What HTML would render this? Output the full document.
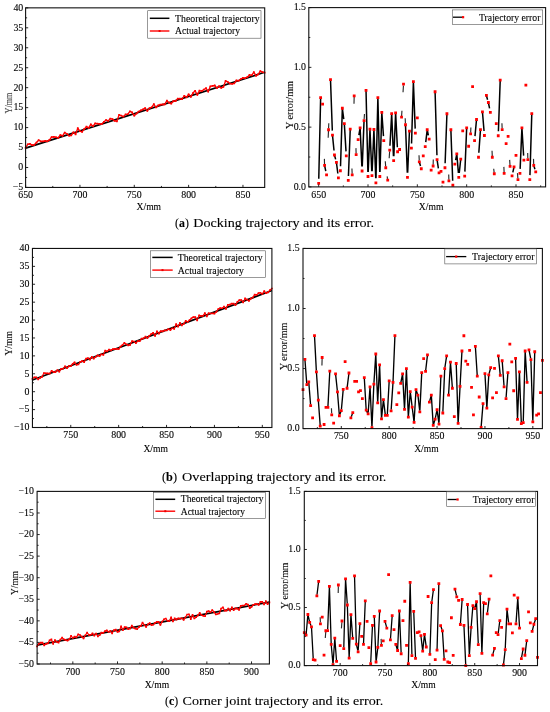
<!DOCTYPE html>
<html lang="en"><head><meta charset="utf-8"><title>Trajectory and error</title>
<style>html,body{margin:0;padding:0;background:#fff}svg{display:block}text{font-family:'Liberation Serif', 'Times New Roman', serif;font-size:9.9px;fill:#000;stroke:#000;stroke-width:.1px}</style></head><body>
<svg width="550" height="712" viewBox="0 0 550 712">
<rect width="550" height="712" fill="#fff"/>
<path d="M25.6 148.14L264.7 72.31" stroke="#000" stroke-width="1.7" fill="none"/>
<polyline points="25.6,147.82 27.77,144.27 29.95,143.79 32.12,145.15 34.29,144.78 36.47,142.58 38.64,140.22 40.82,141.38 42.99,141.36 45.16,140.92 47.34,141.34 49.51,139.82 51.68,137.04 53.86,136.86 56.03,137.25 58.2,137.81 60.38,134.98 62.55,135.82 64.73,132.49 66.9,133.76 69.07,135.73 71.25,135.43 73.42,132.24 75.59,134.3 77.77,128.17 79.94,131.05 82.11,131.94 84.29,128.95 86.46,126.72 88.64,127.81 90.81,124.28 92.98,126.22 95.16,123.39 97.33,123.64 99.5,123.86 101.68,124.04 103.85,121.9 106.02,119.98 108.2,120.86 110.37,118.58 112.55,119.19 114.72,120.92 116.89,121.31 119.07,114.87 121.24,115.53 123.41,116.6 125.59,114.37 127.76,114.24 129.93,111.34 132.11,112.36 134.28,115.77 136.46,113.62 138.63,111.48 140.8,110.36 142.98,109.37 145.15,108.11 147.32,110.93 149.5,108.08 151.67,107.26 153.84,104.09 156.02,107.49 158.19,105.42 160.37,104.68 162.54,104.35 164.71,104.46 166.89,100.69 169.06,102.64 171.23,103.66 173.41,101 175.58,101.13 177.75,98.58 179.93,98.67 182.1,99.23 184.28,95.75 186.45,97.28 188.62,94.26 190.8,96.9 192.97,93.09 195.14,90.82 197.32,95.02 199.49,90.54 201.66,91.11 203.84,89.5 206.01,88.22 208.19,91.75 210.36,86.29 212.53,85.83 214.71,85.47 216.88,88.26 219.05,86.14 221.23,88.01 223.4,86.91 225.57,80.95 227.75,81.91 229.92,83.59 232.1,83.89 234.27,83.44 236.44,80.38 238.62,80.75 240.79,79.02 242.96,77.95 245.14,78.07 247.31,77.17 249.48,74.96 251.66,75.35 253.83,72.16 256.01,75.78 258.18,74.42 260.35,71.04 262.53,72.08 264.7,72.61" stroke="#f00" stroke-width="1.35" fill="none" stroke-linejoin="round"/>
<path d="M24.75 146.97h1.7v1.7h-1.7zM26.92 143.42h1.7v1.7h-1.7zM29.1 142.94h1.7v1.7h-1.7zM31.27 144.3h1.7v1.7h-1.7zM33.44 143.93h1.7v1.7h-1.7zM35.62 141.73h1.7v1.7h-1.7zM37.79 139.37h1.7v1.7h-1.7zM39.97 140.53h1.7v1.7h-1.7zM42.14 140.51h1.7v1.7h-1.7zM44.31 140.07h1.7v1.7h-1.7zM46.49 140.49h1.7v1.7h-1.7zM48.66 138.97h1.7v1.7h-1.7zM50.83 136.19h1.7v1.7h-1.7zM53.01 136.01h1.7v1.7h-1.7zM55.18 136.4h1.7v1.7h-1.7zM57.35 136.96h1.7v1.7h-1.7zM59.53 134.13h1.7v1.7h-1.7zM61.7 134.97h1.7v1.7h-1.7zM63.88 131.64h1.7v1.7h-1.7zM66.05 132.91h1.7v1.7h-1.7zM68.22 134.88h1.7v1.7h-1.7zM70.4 134.58h1.7v1.7h-1.7zM72.57 131.39h1.7v1.7h-1.7zM74.74 133.45h1.7v1.7h-1.7zM76.92 127.32h1.7v1.7h-1.7zM79.09 130.2h1.7v1.7h-1.7zM81.26 131.09h1.7v1.7h-1.7zM83.44 128.1h1.7v1.7h-1.7zM85.61 125.87h1.7v1.7h-1.7zM87.79 126.96h1.7v1.7h-1.7zM89.96 123.43h1.7v1.7h-1.7zM92.13 125.37h1.7v1.7h-1.7zM94.31 122.54h1.7v1.7h-1.7zM96.48 122.79h1.7v1.7h-1.7zM98.65 123.01h1.7v1.7h-1.7zM100.83 123.19h1.7v1.7h-1.7zM103 121.05h1.7v1.7h-1.7zM105.17 119.13h1.7v1.7h-1.7zM107.35 120.01h1.7v1.7h-1.7zM109.52 117.73h1.7v1.7h-1.7zM111.7 118.34h1.7v1.7h-1.7zM113.87 120.07h1.7v1.7h-1.7zM116.04 120.46h1.7v1.7h-1.7zM118.22 114.02h1.7v1.7h-1.7zM120.39 114.68h1.7v1.7h-1.7zM122.56 115.75h1.7v1.7h-1.7zM124.74 113.52h1.7v1.7h-1.7zM126.91 113.39h1.7v1.7h-1.7zM129.08 110.49h1.7v1.7h-1.7zM131.26 111.51h1.7v1.7h-1.7zM133.43 114.92h1.7v1.7h-1.7zM135.61 112.77h1.7v1.7h-1.7zM137.78 110.63h1.7v1.7h-1.7zM139.95 109.51h1.7v1.7h-1.7zM142.13 108.52h1.7v1.7h-1.7zM144.3 107.26h1.7v1.7h-1.7zM146.47 110.08h1.7v1.7h-1.7zM148.65 107.23h1.7v1.7h-1.7zM150.82 106.41h1.7v1.7h-1.7zM152.99 103.24h1.7v1.7h-1.7zM155.17 106.64h1.7v1.7h-1.7zM157.34 104.57h1.7v1.7h-1.7zM159.52 103.83h1.7v1.7h-1.7zM161.69 103.5h1.7v1.7h-1.7zM163.86 103.61h1.7v1.7h-1.7zM166.04 99.84h1.7v1.7h-1.7zM168.21 101.79h1.7v1.7h-1.7zM170.38 102.81h1.7v1.7h-1.7zM172.56 100.15h1.7v1.7h-1.7zM174.73 100.28h1.7v1.7h-1.7zM176.9 97.73h1.7v1.7h-1.7zM179.08 97.82h1.7v1.7h-1.7zM181.25 98.38h1.7v1.7h-1.7zM183.43 94.9h1.7v1.7h-1.7zM185.6 96.43h1.7v1.7h-1.7zM187.77 93.41h1.7v1.7h-1.7zM189.95 96.05h1.7v1.7h-1.7zM192.12 92.24h1.7v1.7h-1.7zM194.29 89.97h1.7v1.7h-1.7zM196.47 94.17h1.7v1.7h-1.7zM198.64 89.69h1.7v1.7h-1.7zM200.81 90.26h1.7v1.7h-1.7zM202.99 88.65h1.7v1.7h-1.7zM205.16 87.37h1.7v1.7h-1.7zM207.34 90.9h1.7v1.7h-1.7zM209.51 85.44h1.7v1.7h-1.7zM211.68 84.98h1.7v1.7h-1.7zM213.86 84.62h1.7v1.7h-1.7zM216.03 87.41h1.7v1.7h-1.7zM218.2 85.29h1.7v1.7h-1.7zM220.38 87.16h1.7v1.7h-1.7zM222.55 86.06h1.7v1.7h-1.7zM224.72 80.1h1.7v1.7h-1.7zM226.9 81.06h1.7v1.7h-1.7zM229.07 82.74h1.7v1.7h-1.7zM231.25 83.04h1.7v1.7h-1.7zM233.42 82.59h1.7v1.7h-1.7zM235.59 79.53h1.7v1.7h-1.7zM237.77 79.9h1.7v1.7h-1.7zM239.94 78.17h1.7v1.7h-1.7zM242.11 77.1h1.7v1.7h-1.7zM244.29 77.22h1.7v1.7h-1.7zM246.46 76.32h1.7v1.7h-1.7zM248.63 74.11h1.7v1.7h-1.7zM250.81 74.5h1.7v1.7h-1.7zM252.98 71.31h1.7v1.7h-1.7zM255.16 74.93h1.7v1.7h-1.7zM257.33 73.57h1.7v1.7h-1.7zM259.5 70.19h1.7v1.7h-1.7zM261.68 71.23h1.7v1.7h-1.7zM263.85 71.76h1.7v1.7h-1.7z" fill="#f00"/>
<path d="M32.45 380.07L271.9 290.55" stroke="#000" stroke-width="1.7" fill="none"/>
<polyline points="32.45,378.89 34.37,377.27 36.28,377.31 38.2,379.3 40.11,377.87 42.03,376.79 43.94,372.98 45.86,373.34 47.77,373.47 49.69,373.53 51.61,370.77 53.52,372.05 55.44,372.09 57.35,370.11 59.27,371.74 61.18,368.9 63.1,368.76 65.02,366.24 66.93,368.25 68.85,366.06 70.76,366.26 72.68,363.84 74.59,362.3 76.51,364.78 78.42,364.52 80.34,361.83 82.26,360.95 84.17,362.13 86.09,358.59 88,358.19 89.92,359.7 91.83,356.96 93.75,358.65 95.66,356.97 97.58,355.26 99.5,356.23 101.41,354.24 103.33,354.88 105.24,350.61 107.16,351.35 109.07,349.5 110.99,350.4 112.91,349.11 114.82,348.86 116.74,348.93 118.65,349.24 120.57,346.58 122.48,345.01 124.4,342.9 126.31,344.24 128.23,345.31 130.15,344.88 132.06,341.18 133.98,341.52 135.89,343.16 137.81,341 139.72,341.05 141.64,338.59 143.55,338.33 145.47,336.64 147.39,338.08 149.3,335.86 151.22,333.98 153.13,332.84 155.05,335.92 156.96,331.3 158.88,333.57 160.8,331.07 162.71,331.45 164.63,330.35 166.54,330.48 168.46,329.07 170.37,330.05 172.29,328.23 174.2,328.84 176.12,324.17 178.04,326.62 179.95,322.92 181.87,325.39 183.78,323.83 185.7,320.81 187.61,321.89 189.53,320.07 191.44,318.29 193.36,317.12 195.28,317.16 197.19,320.37 199.11,315.41 201.02,315.79 202.94,315.9 204.85,313.14 206.77,316.44 208.69,313.22 210.6,313.48 212.52,313.47 214.43,313.65 216.35,311.91 218.26,308.98 220.18,308.05 222.09,308.23 224.01,306.63 225.93,308.79 227.84,304.83 229.76,304.7 231.67,303.54 233.59,303.61 235.5,305.03 237.42,301.75 239.33,300.18 241.25,299.99 243.17,302.4 245.08,298.46 247,299.57 248.91,300.81 250.83,298.55 252.74,297.51 254.66,294.66 256.58,294.88 258.49,293.19 260.41,292.77 262.32,293.91 264.24,291.1 266.15,293.08 268.07,292.4 269.98,290.17 271.9,288.49" stroke="#f00" stroke-width="1.2" fill="none" stroke-linejoin="round"/>
<path d="M31.6 378.04h1.7v1.7h-1.7zM33.52 376.42h1.7v1.7h-1.7zM35.43 376.46h1.7v1.7h-1.7zM37.35 378.45h1.7v1.7h-1.7zM39.26 377.02h1.7v1.7h-1.7zM41.18 375.94h1.7v1.7h-1.7zM43.09 372.13h1.7v1.7h-1.7zM45.01 372.49h1.7v1.7h-1.7zM46.92 372.62h1.7v1.7h-1.7zM48.84 372.68h1.7v1.7h-1.7zM50.76 369.92h1.7v1.7h-1.7zM52.67 371.2h1.7v1.7h-1.7zM54.59 371.24h1.7v1.7h-1.7zM56.5 369.26h1.7v1.7h-1.7zM58.42 370.89h1.7v1.7h-1.7zM60.33 368.05h1.7v1.7h-1.7zM62.25 367.91h1.7v1.7h-1.7zM64.17 365.39h1.7v1.7h-1.7zM66.08 367.4h1.7v1.7h-1.7zM68 365.21h1.7v1.7h-1.7zM69.91 365.41h1.7v1.7h-1.7zM71.83 362.99h1.7v1.7h-1.7zM73.74 361.45h1.7v1.7h-1.7zM75.66 363.93h1.7v1.7h-1.7zM77.57 363.67h1.7v1.7h-1.7zM79.49 360.98h1.7v1.7h-1.7zM81.41 360.1h1.7v1.7h-1.7zM83.32 361.28h1.7v1.7h-1.7zM85.24 357.74h1.7v1.7h-1.7zM87.15 357.34h1.7v1.7h-1.7zM89.07 358.85h1.7v1.7h-1.7zM90.98 356.11h1.7v1.7h-1.7zM92.9 357.8h1.7v1.7h-1.7zM94.81 356.12h1.7v1.7h-1.7zM96.73 354.41h1.7v1.7h-1.7zM98.65 355.38h1.7v1.7h-1.7zM100.56 353.39h1.7v1.7h-1.7zM102.48 354.03h1.7v1.7h-1.7zM104.39 349.76h1.7v1.7h-1.7zM106.31 350.5h1.7v1.7h-1.7zM108.22 348.65h1.7v1.7h-1.7zM110.14 349.55h1.7v1.7h-1.7zM112.06 348.26h1.7v1.7h-1.7zM113.97 348.01h1.7v1.7h-1.7zM115.89 348.08h1.7v1.7h-1.7zM117.8 348.39h1.7v1.7h-1.7zM119.72 345.73h1.7v1.7h-1.7zM121.63 344.16h1.7v1.7h-1.7zM123.55 342.05h1.7v1.7h-1.7zM125.46 343.39h1.7v1.7h-1.7zM127.38 344.46h1.7v1.7h-1.7zM129.3 344.03h1.7v1.7h-1.7zM131.21 340.33h1.7v1.7h-1.7zM133.13 340.67h1.7v1.7h-1.7zM135.04 342.31h1.7v1.7h-1.7zM136.96 340.15h1.7v1.7h-1.7zM138.87 340.2h1.7v1.7h-1.7zM140.79 337.74h1.7v1.7h-1.7zM142.7 337.48h1.7v1.7h-1.7zM144.62 335.79h1.7v1.7h-1.7zM146.54 337.23h1.7v1.7h-1.7zM148.45 335.01h1.7v1.7h-1.7zM150.37 333.13h1.7v1.7h-1.7zM152.28 331.99h1.7v1.7h-1.7zM154.2 335.07h1.7v1.7h-1.7zM156.11 330.45h1.7v1.7h-1.7zM158.03 332.72h1.7v1.7h-1.7zM159.95 330.22h1.7v1.7h-1.7zM161.86 330.6h1.7v1.7h-1.7zM163.78 329.5h1.7v1.7h-1.7zM165.69 329.63h1.7v1.7h-1.7zM167.61 328.22h1.7v1.7h-1.7zM169.52 329.2h1.7v1.7h-1.7zM171.44 327.38h1.7v1.7h-1.7zM173.35 327.99h1.7v1.7h-1.7zM175.27 323.32h1.7v1.7h-1.7zM177.19 325.77h1.7v1.7h-1.7zM179.1 322.07h1.7v1.7h-1.7zM181.02 324.54h1.7v1.7h-1.7zM182.93 322.98h1.7v1.7h-1.7zM184.85 319.96h1.7v1.7h-1.7zM186.76 321.04h1.7v1.7h-1.7zM188.68 319.22h1.7v1.7h-1.7zM190.59 317.44h1.7v1.7h-1.7zM192.51 316.27h1.7v1.7h-1.7zM194.43 316.31h1.7v1.7h-1.7zM196.34 319.52h1.7v1.7h-1.7zM198.26 314.56h1.7v1.7h-1.7zM200.17 314.94h1.7v1.7h-1.7zM202.09 315.05h1.7v1.7h-1.7zM204 312.29h1.7v1.7h-1.7zM205.92 315.59h1.7v1.7h-1.7zM207.84 312.37h1.7v1.7h-1.7zM209.75 312.63h1.7v1.7h-1.7zM211.67 312.62h1.7v1.7h-1.7zM213.58 312.8h1.7v1.7h-1.7zM215.5 311.06h1.7v1.7h-1.7zM217.41 308.13h1.7v1.7h-1.7zM219.33 307.2h1.7v1.7h-1.7zM221.24 307.38h1.7v1.7h-1.7zM223.16 305.78h1.7v1.7h-1.7zM225.08 307.94h1.7v1.7h-1.7zM226.99 303.98h1.7v1.7h-1.7zM228.91 303.85h1.7v1.7h-1.7zM230.82 302.69h1.7v1.7h-1.7zM232.74 302.76h1.7v1.7h-1.7zM234.65 304.18h1.7v1.7h-1.7zM236.57 300.9h1.7v1.7h-1.7zM238.48 299.33h1.7v1.7h-1.7zM240.4 299.14h1.7v1.7h-1.7zM242.32 301.55h1.7v1.7h-1.7zM244.23 297.61h1.7v1.7h-1.7zM246.15 298.72h1.7v1.7h-1.7zM248.06 299.96h1.7v1.7h-1.7zM249.98 297.7h1.7v1.7h-1.7zM251.89 296.66h1.7v1.7h-1.7zM253.81 293.81h1.7v1.7h-1.7zM255.73 294.03h1.7v1.7h-1.7zM257.64 292.34h1.7v1.7h-1.7zM259.56 291.92h1.7v1.7h-1.7zM261.47 293.06h1.7v1.7h-1.7zM263.39 290.25h1.7v1.7h-1.7zM265.3 292.23h1.7v1.7h-1.7zM267.22 291.55h1.7v1.7h-1.7zM269.13 289.32h1.7v1.7h-1.7zM271.05 287.64h1.7v1.7h-1.7z" fill="#f00"/>
<path d="M37.1 645.21L269.4 602.06" stroke="#000" stroke-width="1.7" fill="none"/>
<polyline points="37.1,646.46 38.89,643.76 40.67,642.67 42.46,642.62 44.25,645.34 46.03,643.79 47.82,643.44 49.61,640.32 51.4,639.45 53.18,643.8 54.97,640.11 56.76,641.97 58.54,642.54 60.33,639.61 62.12,637.64 63.9,639.47 65.69,639.95 67.48,640.61 69.26,639.41 71.05,635.93 72.84,637.85 74.63,636.6 76.41,637.3 78.2,634.37 79.99,635.01 81.77,636.66 83.56,638.49 85.35,635.25 87.13,632.6 88.92,634.81 90.71,634.76 92.49,633.38 94.28,635.7 96.07,633.49 97.86,636.35 99.64,635.26 101.43,632.62 103.22,632.88 105,631.12 106.79,630.46 108.58,631.82 110.36,630.94 112.15,633.32 113.94,630.21 115.72,629.71 117.51,631.94 119.3,631.36 121.09,626.25 122.87,630.25 124.66,627.11 126.45,627.3 128.23,629.09 130.02,628.53 131.81,625.61 133.59,627.75 135.38,628.65 137.17,629.03 138.95,627.07 140.74,626.05 142.53,622.55 144.32,624.94 146.1,627 147.89,624.38 149.68,623.09 151.46,625.24 153.25,624.77 155.04,622.78 156.82,621.83 158.61,621.97 160.4,624.89 162.18,621.58 163.97,619.32 165.76,618.5 167.55,620.77 169.33,621.24 171.12,617.29 172.91,621.49 174.69,618.38 176.48,619.57 178.27,618.46 180.05,618.54 181.84,618.24 183.63,619.79 185.41,617.3 187.2,614.5 188.99,614.46 190.78,619.11 192.56,614.82 194.35,618.48 196.14,617.18 197.92,615.36 199.71,612.76 201.5,615.06 203.28,615.78 205.07,616.26 206.86,611.58 208.64,610.99 210.43,612.26 212.22,610.03 214.01,611.92 215.79,614.38 217.58,614.01 219.37,613.3 221.15,608.57 222.94,607.38 224.73,610.77 226.51,610.69 228.3,608.49 230.09,610.53 231.87,607.38 233.66,610.14 235.45,608.36 237.24,608.65 239.02,609.82 240.81,605.84 242.6,605.51 244.38,605.51 246.17,603.78 247.96,604.51 249.74,608.25 251.53,606.79 253.32,604.81 255.1,604.12 256.89,604.02 258.68,605 260.47,601.75 262.25,601.82 264.04,604.34 265.83,601.21 267.61,604.15 269.4,602.38" stroke="#f00" stroke-width="1.2" fill="none" stroke-linejoin="round"/>
<path d="M36.25 645.61h1.7v1.7h-1.7zM38.04 642.91h1.7v1.7h-1.7zM39.82 641.82h1.7v1.7h-1.7zM41.61 641.77h1.7v1.7h-1.7zM43.4 644.49h1.7v1.7h-1.7zM45.18 642.94h1.7v1.7h-1.7zM46.97 642.59h1.7v1.7h-1.7zM48.76 639.47h1.7v1.7h-1.7zM50.55 638.6h1.7v1.7h-1.7zM52.33 642.95h1.7v1.7h-1.7zM54.12 639.26h1.7v1.7h-1.7zM55.91 641.12h1.7v1.7h-1.7zM57.69 641.69h1.7v1.7h-1.7zM59.48 638.76h1.7v1.7h-1.7zM61.27 636.79h1.7v1.7h-1.7zM63.05 638.62h1.7v1.7h-1.7zM64.84 639.1h1.7v1.7h-1.7zM66.63 639.76h1.7v1.7h-1.7zM68.41 638.56h1.7v1.7h-1.7zM70.2 635.08h1.7v1.7h-1.7zM71.99 637h1.7v1.7h-1.7zM73.78 635.75h1.7v1.7h-1.7zM75.56 636.45h1.7v1.7h-1.7zM77.35 633.52h1.7v1.7h-1.7zM79.14 634.16h1.7v1.7h-1.7zM80.92 635.81h1.7v1.7h-1.7zM82.71 637.64h1.7v1.7h-1.7zM84.5 634.4h1.7v1.7h-1.7zM86.28 631.75h1.7v1.7h-1.7zM88.07 633.96h1.7v1.7h-1.7zM89.86 633.91h1.7v1.7h-1.7zM91.64 632.53h1.7v1.7h-1.7zM93.43 634.85h1.7v1.7h-1.7zM95.22 632.64h1.7v1.7h-1.7zM97.01 635.5h1.7v1.7h-1.7zM98.79 634.41h1.7v1.7h-1.7zM100.58 631.77h1.7v1.7h-1.7zM102.37 632.03h1.7v1.7h-1.7zM104.15 630.27h1.7v1.7h-1.7zM105.94 629.61h1.7v1.7h-1.7zM107.73 630.97h1.7v1.7h-1.7zM109.51 630.09h1.7v1.7h-1.7zM111.3 632.47h1.7v1.7h-1.7zM113.09 629.36h1.7v1.7h-1.7zM114.87 628.86h1.7v1.7h-1.7zM116.66 631.09h1.7v1.7h-1.7zM118.45 630.51h1.7v1.7h-1.7zM120.24 625.4h1.7v1.7h-1.7zM122.02 629.4h1.7v1.7h-1.7zM123.81 626.26h1.7v1.7h-1.7zM125.6 626.45h1.7v1.7h-1.7zM127.38 628.24h1.7v1.7h-1.7zM129.17 627.68h1.7v1.7h-1.7zM130.96 624.76h1.7v1.7h-1.7zM132.74 626.9h1.7v1.7h-1.7zM134.53 627.8h1.7v1.7h-1.7zM136.32 628.18h1.7v1.7h-1.7zM138.1 626.22h1.7v1.7h-1.7zM139.89 625.2h1.7v1.7h-1.7zM141.68 621.7h1.7v1.7h-1.7zM143.47 624.09h1.7v1.7h-1.7zM145.25 626.15h1.7v1.7h-1.7zM147.04 623.53h1.7v1.7h-1.7zM148.83 622.24h1.7v1.7h-1.7zM150.61 624.39h1.7v1.7h-1.7zM152.4 623.92h1.7v1.7h-1.7zM154.19 621.93h1.7v1.7h-1.7zM155.97 620.98h1.7v1.7h-1.7zM157.76 621.12h1.7v1.7h-1.7zM159.55 624.04h1.7v1.7h-1.7zM161.33 620.73h1.7v1.7h-1.7zM163.12 618.47h1.7v1.7h-1.7zM164.91 617.65h1.7v1.7h-1.7zM166.7 619.92h1.7v1.7h-1.7zM168.48 620.39h1.7v1.7h-1.7zM170.27 616.44h1.7v1.7h-1.7zM172.06 620.64h1.7v1.7h-1.7zM173.84 617.53h1.7v1.7h-1.7zM175.63 618.72h1.7v1.7h-1.7zM177.42 617.61h1.7v1.7h-1.7zM179.2 617.69h1.7v1.7h-1.7zM180.99 617.39h1.7v1.7h-1.7zM182.78 618.94h1.7v1.7h-1.7zM184.56 616.45h1.7v1.7h-1.7zM186.35 613.65h1.7v1.7h-1.7zM188.14 613.61h1.7v1.7h-1.7zM189.93 618.26h1.7v1.7h-1.7zM191.71 613.97h1.7v1.7h-1.7zM193.5 617.63h1.7v1.7h-1.7zM195.29 616.33h1.7v1.7h-1.7zM197.07 614.51h1.7v1.7h-1.7zM198.86 611.91h1.7v1.7h-1.7zM200.65 614.21h1.7v1.7h-1.7zM202.43 614.93h1.7v1.7h-1.7zM204.22 615.41h1.7v1.7h-1.7zM206.01 610.73h1.7v1.7h-1.7zM207.79 610.14h1.7v1.7h-1.7zM209.58 611.41h1.7v1.7h-1.7zM211.37 609.18h1.7v1.7h-1.7zM213.16 611.07h1.7v1.7h-1.7zM214.94 613.53h1.7v1.7h-1.7zM216.73 613.16h1.7v1.7h-1.7zM218.52 612.45h1.7v1.7h-1.7zM220.3 607.72h1.7v1.7h-1.7zM222.09 606.53h1.7v1.7h-1.7zM223.88 609.92h1.7v1.7h-1.7zM225.66 609.84h1.7v1.7h-1.7zM227.45 607.64h1.7v1.7h-1.7zM229.24 609.68h1.7v1.7h-1.7zM231.02 606.53h1.7v1.7h-1.7zM232.81 609.29h1.7v1.7h-1.7zM234.6 607.51h1.7v1.7h-1.7zM236.39 607.8h1.7v1.7h-1.7zM238.17 608.97h1.7v1.7h-1.7zM239.96 604.99h1.7v1.7h-1.7zM241.75 604.66h1.7v1.7h-1.7zM243.53 604.66h1.7v1.7h-1.7zM245.32 602.93h1.7v1.7h-1.7zM247.11 603.66h1.7v1.7h-1.7zM248.89 607.4h1.7v1.7h-1.7zM250.68 605.94h1.7v1.7h-1.7zM252.47 603.96h1.7v1.7h-1.7zM254.25 603.27h1.7v1.7h-1.7zM256.04 603.17h1.7v1.7h-1.7zM257.83 604.15h1.7v1.7h-1.7zM259.62 600.9h1.7v1.7h-1.7zM261.4 600.97h1.7v1.7h-1.7zM263.19 603.49h1.7v1.7h-1.7zM264.98 600.36h1.7v1.7h-1.7zM266.76 603.3h1.7v1.7h-1.7zM268.55 601.53h1.7v1.7h-1.7z" fill="#f00"/>
<path d="M324.55 164.18L324.38 158.89M328.48 130.96L328.18 137.76M328.58 128.56L328.79 123.27M352.16 173.75L351.93 168.45M354.16 97.02L353.99 103.81M356.12 153.43L355.94 148.13M364.13 119.36L364.48 114.07M385.67 166.58L385.29 161.29M387.54 178.9L387.14 176.39M389.63 151.4L389.18 158.19M401.62 116.01L401.93 110.72M403.45 85.42L403.04 92.21M405.43 123.54L405.18 118.25M419.25 160.6L419.01 155.3M433.15 164.78L433.29 159.48M448.87 179.72L448.72 174.43M470.66 132.75L470.88 127.45M492.27 156.06L492.03 150.76M494.15 172.56L493.7 168.8M502.14 128.44L501.93 123.15M504.11 172.19L503.87 166.9M510 165.14L509.65 159.85M517.88 178.41L517.45 173.13M527.81 158.33L527.67 153.03M533.71 164.18L533.51 158.89" stroke="#2a2a2a" stroke-width="1.15" fill="none"/>
<path d="M318.77 178.82L320.64 97.61M325.77 171.12L324.59 165.38M332.32 130.64L330.51 79.68M334.01 150.51L332.48 135.14M335.64 159.43L334.45 154.98M337.83 173.47L336.43 162.4M340.52 166.27L342.35 108.25M343.75 119.2L342.35 108.25M346.02 151.33L344.32 123.67M348.44 175.95L350.24 129.17M358.88 135.13L360.11 127.85M361.87 166.51L360.11 127.85M362.26 166.51L364.05 120.56M367.9 172L366.03 90.44M368.19 172L369.97 129.17M371.76 171.17L369.97 129.17M372.14 171.17L373.92 129.52M375.73 178.34L373.92 129.52M376 178.34L377.87 97.61M379.73 172L377.87 97.61M379.98 172L381.81 112.31M383.47 136.15L381.81 112.31M389.95 145.71L391.68 113.63M393.46 156.11L391.68 113.63M393.84 156.11L395.63 112.79M397.37 147.26L395.63 112.79M407.3 172.84L405.49 124.74M407.66 172.84L409.44 131.2M411.55 143.55L413.39 81.71M415.19 128.61L413.39 81.71M420.49 165.96L419.31 161.8M425.75 142.15L427.2 129.76M428.38 135.36L427.2 129.76M436.94 155.15L435.09 91.75M438.37 168.34L437.07 159.65M445.12 163.28L446.93 113.75M452.69 180.73L450.88 129.76M455.62 160.08L456.8 153.91M458.4 172.85L456.8 153.91M459.26 172.86L460.75 159.05M464.88 171.65L466.67 127.85M474.98 136.16L476.53 119.48M478.83 152.77L480.48 129.64M484.05 131.02L482.45 111.95M487.58 99.69L486.4 95.46M489.56 108.39L488.37 102.51M498.4 131.24L500.21 80.16M512.84 172.32L514.03 166.94M520.14 168.9L521.92 127.85M523.62 155.63L521.92 127.85M529.95 175.11L531.79 113.63M534.94 169.26L533.76 165.38" stroke="#000" stroke-width="1.5" fill="none" stroke-linecap="butt"/>
<path d="M317.27 181.91h2.8v2.8h-2.8zM319.24 96.21h2.8v2.8h-2.8zM321.21 102.66h2.8v2.8h-2.8zM323.19 163.98h2.8v2.8h-2.8zM325.16 173.55h2.8v2.8h-2.8zM327.13 128.36h2.8v2.8h-2.8zM329.11 78.28h2.8v2.8h-2.8zM331.08 133.74h2.8v2.8h-2.8zM333.05 153.58h2.8v2.8h-2.8zM335.03 161h2.8v2.8h-2.8zM337 176.53h2.8v2.8h-2.8zM338.97 169.36h2.8v2.8h-2.8zM340.95 106.85h2.8v2.8h-2.8zM342.92 122.27h2.8v2.8h-2.8zM344.89 154.42h2.8v2.8h-2.8zM346.87 179.05h2.8v2.8h-2.8zM348.84 127.77h2.8v2.8h-2.8zM350.81 173.55h2.8v2.8h-2.8zM352.79 94.42h2.8v2.8h-2.8zM354.76 153.23h2.8v2.8h-2.8zM356.73 138.16h2.8v2.8h-2.8zM358.71 126.45h2.8v2.8h-2.8zM360.68 169.6h2.8v2.8h-2.8zM362.65 119.16h2.8v2.8h-2.8zM364.63 89.04h2.8v2.8h-2.8zM366.6 175.1h2.8v2.8h-2.8zM368.57 127.77h2.8v2.8h-2.8zM370.55 174.26h2.8v2.8h-2.8zM372.52 128.12h2.8v2.8h-2.8zM374.49 181.44h2.8v2.8h-2.8zM376.47 96.21h2.8v2.8h-2.8zM378.44 175.1h2.8v2.8h-2.8zM380.41 110.91h2.8v2.8h-2.8zM382.39 139.24h2.8v2.8h-2.8zM384.36 166.37h2.8v2.8h-2.8zM386.33 178.69h2.8v2.8h-2.8zM388.31 148.8h2.8v2.8h-2.8zM390.28 112.23h2.8v2.8h-2.8zM392.25 159.2h2.8v2.8h-2.8zM394.23 111.39h2.8v2.8h-2.8zM396.2 150.36h2.8v2.8h-2.8zM398.17 148.09h2.8v2.8h-2.8zM400.15 115.81h2.8v2.8h-2.8zM402.12 82.82h2.8v2.8h-2.8zM404.09 123.34h2.8v2.8h-2.8zM406.07 175.94h2.8v2.8h-2.8zM408.04 129.8h2.8v2.8h-2.8zM410.01 146.65h2.8v2.8h-2.8zM411.99 80.31h2.8v2.8h-2.8zM413.96 131.71h2.8v2.8h-2.8zM415.93 116.53h2.8v2.8h-2.8zM417.91 160.4h2.8v2.8h-2.8zM419.88 167.33h2.8v2.8h-2.8zM421.85 154.42h2.8v2.8h-2.8zM423.83 145.22h2.8v2.8h-2.8zM425.8 128.36h2.8v2.8h-2.8zM427.77 137.69h2.8v2.8h-2.8zM429.75 168.77h2.8v2.8h-2.8zM431.72 164.58h2.8v2.8h-2.8zM433.69 90.35h2.8v2.8h-2.8zM435.67 158.25h2.8v2.8h-2.8zM437.64 171.4h2.8v2.8h-2.8zM439.61 169.96h2.8v2.8h-2.8zM441.59 180.72h2.8v2.8h-2.8zM443.56 166.37h2.8v2.8h-2.8zM445.53 112.35h2.8v2.8h-2.8zM447.51 179.52h2.8v2.8h-2.8zM449.48 128.36h2.8v2.8h-2.8zM451.45 183.83h2.8v2.8h-2.8zM453.43 162.79h2.8v2.8h-2.8zM455.4 152.51h2.8v2.8h-2.8zM457.37 175.94h2.8v2.8h-2.8zM459.35 157.65h2.8v2.8h-2.8zM461.32 129.56h2.8v2.8h-2.8zM463.29 174.74h2.8v2.8h-2.8zM465.27 126.45h2.8v2.8h-2.8zM467.24 144.86h2.8v2.8h-2.8zM469.21 132.55h2.8v2.8h-2.8zM471.19 85.21h2.8v2.8h-2.8zM473.16 139.24h2.8v2.8h-2.8zM475.13 118.08h2.8v2.8h-2.8zM477.11 155.86h2.8v2.8h-2.8zM479.08 128.24h2.8v2.8h-2.8zM481.05 110.55h2.8v2.8h-2.8zM483.03 134.1h2.8v2.8h-2.8zM485 94.06h2.8v2.8h-2.8zM486.97 101.11h2.8v2.8h-2.8zM488.95 110.91h2.8v2.8h-2.8zM490.92 155.86h2.8v2.8h-2.8zM492.89 172.35h2.8v2.8h-2.8zM494.87 122.27h2.8v2.8h-2.8zM496.84 134.34h2.8v2.8h-2.8zM498.81 78.76h2.8v2.8h-2.8zM500.79 128.24h2.8v2.8h-2.8zM502.76 171.99h2.8v2.8h-2.8zM504.73 142.23h2.8v2.8h-2.8zM506.71 135.06h2.8v2.8h-2.8zM508.68 164.94h2.8v2.8h-2.8zM510.65 174.5h2.8v2.8h-2.8zM512.63 165.54h2.8v2.8h-2.8zM514.6 153.94h2.8v2.8h-2.8zM516.57 178.21h2.8v2.8h-2.8zM518.55 171.99h2.8v2.8h-2.8zM520.52 126.45h2.8v2.8h-2.8zM522.49 158.72h2.8v2.8h-2.8zM524.47 83.78h2.8v2.8h-2.8zM526.44 158.13h2.8v2.8h-2.8zM528.41 178.21h2.8v2.8h-2.8zM530.39 112.23h2.8v2.8h-2.8zM532.36 163.98h2.8v2.8h-2.8zM534.33 170.44h2.8v2.8h-2.8z" fill="#f00"/>
<path d="M322.12 358.7L321.93 365.5M331.68 413.59L331.44 408.29" stroke="#2a2a2a" stroke-width="1.15" fill="none"/>
<path d="M306.74 383.45L304.92 359.3M310.56 404.46L308.75 381.88M316.34 370.59L314.49 335.64M318.24 398.94L316.41 371.79M320.15 425L318.32 400.14M327.96 406.26L329.81 371.07M337.35 390.78L335.56 373.83M339.29 414.55L337.47 391.97M339.81 414.62L341.3 410.59M341.41 409.39L343.22 389.33M347.2 387.06L348.96 372.99M351.29 416.78L352.8 412.63M366.13 409.03L364.29 377.68M367.57 412.88L366.2 410.22M368.2 412.75L370.03 386.81M371.89 426.44L370.03 386.81M372 426.44L373.86 384.04M373.94 382.85L375.78 354.02M377.65 401.7L375.78 354.02M377.75 401.7L379.61 364.83M381.48 417.67L379.61 364.83M381.64 417.68L383.44 399.66M385.21 414.2L383.44 399.66M387.34 414.19L389.18 380.92M391.18 409.63L393.01 382.36M393.06 381.16L394.93 335.64M400.92 382.15L402.59 373.95M404.44 408.19L402.59 373.95M404.56 408.19L406.42 368.67M408.29 415.87L406.42 368.67M408.43 415.87L410.25 391.61M412.02 405.91L410.25 391.61M413.93 421.16L412.17 407.1M414.15 421.16L416 389.69M417.51 393.96L416 389.69M419.69 410.59L417.91 395.09M419.89 410.59L421.74 372.63M425.71 370.24L427.49 354.86M429.72 400.9L431.32 395.09M433.16 424.16L431.32 395.09M433.59 424.21L435.15 419.11M435.39 417.94L437.06 409.74M438.82 422.85L437.06 409.74M439.03 422.84L440.89 376.12M442.86 411.79L444.72 368.67M444.9 367.48L446.64 355.82M448.62 394.01L450.47 362.18M452.3 387.05L450.47 362.18M458.09 422.24L456.22 363.51M458.19 422.24L460.05 386.44M460.11 385.25L461.96 351.02M477.21 374.92L475.37 346.45M481.21 426.08L483.03 403.62M486.79 406.86L484.94 373.59M486.93 406.86L488.77 374.92M489.08 373.75L490.69 367.59M500.15 374.2L498.35 355.94M504.01 385.73L502.18 360.74M506.1 397.5L507.93 372.63M517.46 418.27L515.59 358.34M517.55 418.27L519.42 371.91M521.29 422.48L519.42 371.91M523.28 421.52L525.16 351.02M527.01 381.16L525.16 351.02M530.68 358.49L528.99 349.93M532.79 420.67L530.91 359.66M532.86 420.67L534.74 351.74" stroke="#000" stroke-width="1.35" fill="none" stroke-linecap="butt"/>
<path d="M301.6 388.29h2.8v2.8h-2.8zM303.52 357.9h2.8v2.8h-2.8zM305.43 383.24h2.8v2.8h-2.8zM307.35 380.48h2.8v2.8h-2.8zM309.26 404.26h2.8v2.8h-2.8zM311.18 416.51h2.8v2.8h-2.8zM313.09 334.24h2.8v2.8h-2.8zM315.01 370.39h2.8v2.8h-2.8zM316.92 398.74h2.8v2.8h-2.8zM318.84 424.8h2.8v2.8h-2.8zM320.75 356.1h2.8v2.8h-2.8zM322.67 423.12h2.8v2.8h-2.8zM324.58 406.06h2.8v2.8h-2.8zM326.5 406.06h2.8v2.8h-2.8zM328.41 369.67h2.8v2.8h-2.8zM330.33 413.39h2.8v2.8h-2.8zM332.24 421.68h2.8v2.8h-2.8zM334.16 372.43h2.8v2.8h-2.8zM336.07 390.57h2.8v2.8h-2.8zM337.99 414.35h2.8v2.8h-2.8zM339.9 409.19h2.8v2.8h-2.8zM341.82 387.93h2.8v2.8h-2.8zM343.73 360.3h2.8v2.8h-2.8zM345.65 386.85h2.8v2.8h-2.8zM347.56 371.59h2.8v2.8h-2.8zM349.48 416.51h2.8v2.8h-2.8zM351.4 411.23h2.8v2.8h-2.8zM353.31 379.88h2.8v2.8h-2.8zM355.23 379.88h2.8v2.8h-2.8zM357.14 390.57h2.8v2.8h-2.8zM359.06 389.25h2.8v2.8h-2.8zM360.97 397.3h2.8v2.8h-2.8zM362.89 376.28h2.8v2.8h-2.8zM364.8 408.82h2.8v2.8h-2.8zM366.72 412.55h2.8v2.8h-2.8zM368.63 385.41h2.8v2.8h-2.8zM370.55 426.24h2.8v2.8h-2.8zM372.46 382.64h2.8v2.8h-2.8zM374.38 352.62h2.8v2.8h-2.8zM376.29 401.5h2.8v2.8h-2.8zM378.21 363.43h2.8v2.8h-2.8zM380.12 417.47h2.8v2.8h-2.8zM382.04 398.26h2.8v2.8h-2.8zM383.95 413.99h2.8v2.8h-2.8zM385.87 413.99h2.8v2.8h-2.8zM387.78 379.52h2.8v2.8h-2.8zM389.7 409.43h2.8v2.8h-2.8zM391.61 380.96h2.8v2.8h-2.8zM393.53 334.24h2.8v2.8h-2.8zM395.44 403.18h2.8v2.8h-2.8zM397.36 391.41h2.8v2.8h-2.8zM399.28 381.92h2.8v2.8h-2.8zM401.19 372.55h2.8v2.8h-2.8zM403.11 407.98h2.8v2.8h-2.8zM405.02 367.27h2.8v2.8h-2.8zM406.94 415.67h2.8v2.8h-2.8zM408.85 390.21h2.8v2.8h-2.8zM410.77 405.7h2.8v2.8h-2.8zM412.68 420.95h2.8v2.8h-2.8zM414.6 388.29h2.8v2.8h-2.8zM416.51 393.69h2.8v2.8h-2.8zM418.43 410.39h2.8v2.8h-2.8zM420.34 371.23h2.8v2.8h-2.8zM422.26 357.18h2.8v2.8h-2.8zM424.17 370.03h2.8v2.8h-2.8zM426.09 353.46h2.8v2.8h-2.8zM428 400.66h2.8v2.8h-2.8zM429.92 393.69h2.8v2.8h-2.8zM431.83 423.96h2.8v2.8h-2.8zM433.75 417.71h2.8v2.8h-2.8zM435.66 408.34h2.8v2.8h-2.8zM437.58 422.64h2.8v2.8h-2.8zM439.49 374.72h2.8v2.8h-2.8zM441.41 411.59h2.8v2.8h-2.8zM443.32 367.27h2.8v2.8h-2.8zM445.24 354.42h2.8v2.8h-2.8zM447.16 393.81h2.8v2.8h-2.8zM449.07 360.78h2.8v2.8h-2.8zM450.99 386.85h2.8v2.8h-2.8zM452.9 415.31h2.8v2.8h-2.8zM454.82 362.11h2.8v2.8h-2.8zM456.73 422.04h2.8v2.8h-2.8zM458.65 385.04h2.8v2.8h-2.8zM460.56 349.62h2.8v2.8h-2.8zM462.48 334.36h2.8v2.8h-2.8zM464.39 359.7h2.8v2.8h-2.8zM466.31 363.07h2.8v2.8h-2.8zM468.22 348.89h2.8v2.8h-2.8zM470.14 385.89h2.8v2.8h-2.8zM472.05 413.39h2.8v2.8h-2.8zM473.97 345.05h2.8v2.8h-2.8zM475.88 374.72h2.8v2.8h-2.8zM477.8 395.61h2.8v2.8h-2.8zM479.71 425.88h2.8v2.8h-2.8zM481.63 402.22h2.8v2.8h-2.8zM483.54 372.19h2.8v2.8h-2.8zM485.46 406.66h2.8v2.8h-2.8zM487.37 373.52h2.8v2.8h-2.8zM489.29 366.19h2.8v2.8h-2.8zM491.2 396.57h2.8v2.8h-2.8zM493.12 366.91h2.8v2.8h-2.8zM495.04 391.29h2.8v2.8h-2.8zM496.95 354.54h2.8v2.8h-2.8zM498.87 374h2.8v2.8h-2.8zM500.78 359.34h2.8v2.8h-2.8zM502.7 385.53h2.8v2.8h-2.8zM504.61 397.3h2.8v2.8h-2.8zM506.53 371.23h2.8v2.8h-2.8zM508.44 342.65h2.8v2.8h-2.8zM510.36 360.42h2.8v2.8h-2.8zM512.27 389.37h2.8v2.8h-2.8zM514.19 356.94h2.8v2.8h-2.8zM516.1 418.07h2.8v2.8h-2.8zM518.02 370.51h2.8v2.8h-2.8zM519.93 422.28h2.8v2.8h-2.8zM521.85 421.32h2.8v2.8h-2.8zM523.76 349.62h2.8v2.8h-2.8zM525.68 380.96h2.8v2.8h-2.8zM527.59 348.53h2.8v2.8h-2.8zM529.51 358.26h2.8v2.8h-2.8zM531.42 420.47h2.8v2.8h-2.8zM533.34 350.34h2.8v2.8h-2.8zM535.25 413.63h2.8v2.8h-2.8zM537.17 412.55h2.8v2.8h-2.8zM539.08 391.29h2.8v2.8h-2.8zM541 358.98h2.8v2.8h-2.8z" fill="#f00"/>
<path d="M320.39 622.59L320.17 617.3M325.74 631.96L325.29 638.04M338.35 586.2L338.2 593M341.88 622.2L341.43 628.39M381.37 644.19L381.1 638.9" stroke="#2a2a2a" stroke-width="1.15" fill="none"/>
<path d="M305.38 634.09L304.3 632.62M306.2 633.86L307.89 614.5M309.41 621.11L307.89 614.5M311.03 625.7L309.68 622.28M313.2 658.36L311.48 626.81M317 594.73L318.65 581.4M327.67 629.33L329.41 586.28M331.17 643.26L329.41 586.28M332.9 663.48L331.21 644.46M333.08 663.47L334.8 638.08M336.5 660.22L334.8 638.08M343.8 647.44L345.56 578.85M347.27 603.78L345.56 578.85M349.11 656.97L347.35 604.98M349.2 656.97L350.94 614.62M352.64 637.11L350.94 614.62M356.29 642.92L354.53 575.95M357.84 650.61L356.32 644.12M358.19 650.58L359.91 623.56M363.55 643.15L365.29 600.8M370.73 662.43L372.47 625.42M376.01 660.8L374.26 616.36M376.2 660.81L377.85 647.37M377.91 646.17L379.64 611.02M386.51 626.93L385.02 621.35M390.49 638.74L392.2 615.55M397.24 649.35L395.79 644.46M397.63 649.3L399.37 611.02M401.12 652.56L399.37 611.02M408.37 662.43L410.14 582.33M411.9 654.41L410.14 582.33M415.47 657.08L413.72 611.37M422.56 649.89L420.9 635.64M422.82 649.89L424.49 634.36M426.11 645.83L424.49 634.36M429.91 653.25L431.66 602.66M431.83 601.47L433.46 589.53M437.08 648.95L438.84 583.61M442.04 629.74L440.63 625.53M444.14 658.25L442.43 630.88M456.51 595.68L454.98 589.07M460.45 623.29L462.16 599.52M465.69 664.4L463.95 625.42M469.29 654.41L467.54 604.51M469.41 654.41L471.13 627.28M471.23 626.08L472.92 605.56M474.12 607.65L472.92 605.56M475.01 607.53L476.51 601.73M478.25 643.5L476.51 601.73M481.85 652.21L480.1 593.71M481.93 652.21L483.68 602.66M487.42 612.61L489.07 599.17M492.96 653.87L494.45 648.3M498.19 633.52L499.83 620.54M503.56 663.83L505.21 649.57M505.26 648.37L507 609.04M508.65 622.6L507 609.04M516.06 622.59L517.77 597.89M519.49 626.89L517.77 597.89M521.57 657.45L523.15 648.99M525.09 654.07L526.74 640.63M532.41 630.29L533.91 624.26M534.28 623.11L535.71 618.68" stroke="#000" stroke-width="1.3" fill="none" stroke-linecap="butt"/>
<path d="M302.9 631.22h2.8v2.8h-2.8zM304.69 633.66h2.8v2.8h-2.8zM306.49 613.1h2.8v2.8h-2.8zM308.28 620.88h2.8v2.8h-2.8zM310.08 625.41h2.8v2.8h-2.8zM311.87 658.16h2.8v2.8h-2.8zM313.66 658.74h2.8v2.8h-2.8zM315.46 594.52h2.8v2.8h-2.8zM317.25 580h2.8v2.8h-2.8zM319.04 622.39h2.8v2.8h-2.8zM320.84 615.77h2.8v2.8h-2.8zM322.63 653.63h2.8v2.8h-2.8zM324.43 629.36h2.8v2.8h-2.8zM326.22 629.13h2.8v2.8h-2.8zM328.01 584.88h2.8v2.8h-2.8zM329.81 643.06h2.8v2.8h-2.8zM331.6 663.27h2.8v2.8h-2.8zM333.4 636.68h2.8v2.8h-2.8zM335.19 660.02h2.8v2.8h-2.8zM336.98 583.6h2.8v2.8h-2.8zM338.78 644.23h2.8v2.8h-2.8zM340.57 619.6h2.8v2.8h-2.8zM342.36 647.24h2.8v2.8h-2.8zM344.16 577.45h2.8v2.8h-2.8zM345.95 603.58h2.8v2.8h-2.8zM347.75 656.77h2.8v2.8h-2.8zM349.54 613.22h2.8v2.8h-2.8zM351.33 636.91h2.8v2.8h-2.8zM353.13 574.55h2.8v2.8h-2.8zM354.92 642.72h2.8v2.8h-2.8zM356.72 650.38h2.8v2.8h-2.8zM358.51 622.16h2.8v2.8h-2.8zM360.3 634.93h2.8v2.8h-2.8zM362.1 642.95h2.8v2.8h-2.8zM363.89 599.4h2.8v2.8h-2.8zM365.68 619.95h2.8v2.8h-2.8zM367.48 646.32h2.8v2.8h-2.8zM369.27 662.23h2.8v2.8h-2.8zM371.07 624.02h2.8v2.8h-2.8zM372.86 614.96h2.8v2.8h-2.8zM374.65 660.6h2.8v2.8h-2.8zM376.45 645.97h2.8v2.8h-2.8zM378.24 609.62h2.8v2.8h-2.8zM380.04 643.99h2.8v2.8h-2.8zM381.83 639.46h2.8v2.8h-2.8zM383.62 619.95h2.8v2.8h-2.8zM385.42 626.69h2.8v2.8h-2.8zM387.21 573.27h2.8v2.8h-2.8zM389 638.53h2.8v2.8h-2.8zM390.8 614.15h2.8v2.8h-2.8zM392.59 628.2h2.8v2.8h-2.8zM394.39 643.06h2.8v2.8h-2.8zM396.18 649.1h2.8v2.8h-2.8zM397.97 609.62h2.8v2.8h-2.8zM399.77 652.35h2.8v2.8h-2.8zM401.56 619.14h2.8v2.8h-2.8zM403.36 599.86h2.8v2.8h-2.8zM405.15 643.88h2.8v2.8h-2.8zM406.94 662.23h2.8v2.8h-2.8zM408.74 580.93h2.8v2.8h-2.8zM410.53 654.21h2.8v2.8h-2.8zM412.32 609.97h2.8v2.8h-2.8zM414.12 656.88h2.8v2.8h-2.8zM415.91 631.22h2.8v2.8h-2.8zM417.71 630.52h2.8v2.8h-2.8zM419.5 634.24h2.8v2.8h-2.8zM421.29 649.68h2.8v2.8h-2.8zM423.09 632.96h2.8v2.8h-2.8zM424.88 645.62h2.8v2.8h-2.8zM426.68 595.1h2.8v2.8h-2.8zM428.47 653.05h2.8v2.8h-2.8zM430.26 601.26h2.8v2.8h-2.8zM432.06 588.13h2.8v2.8h-2.8zM433.85 658.16h2.8v2.8h-2.8zM435.64 648.75h2.8v2.8h-2.8zM437.44 582.21h2.8v2.8h-2.8zM439.23 624.13h2.8v2.8h-2.8zM441.03 629.48h2.8v2.8h-2.8zM442.82 658.04h2.8v2.8h-2.8zM444.61 649.45h2.8v2.8h-2.8zM446.41 660.6h2.8v2.8h-2.8zM448.2 661.3h2.8v2.8h-2.8zM450 616.35h2.8v2.8h-2.8zM451.79 653.98h2.8v2.8h-2.8zM453.58 587.67h2.8v2.8h-2.8zM455.38 595.45h2.8v2.8h-2.8zM457.17 599.05h2.8v2.8h-2.8zM458.96 623.09h2.8v2.8h-2.8zM460.76 598.12h2.8v2.8h-2.8zM462.55 624.02h2.8v2.8h-2.8zM464.35 664.2h2.8v2.8h-2.8zM466.14 603.11h2.8v2.8h-2.8zM467.93 654.21h2.8v2.8h-2.8zM469.73 625.88h2.8v2.8h-2.8zM471.52 604.16h2.8v2.8h-2.8zM473.32 607.29h2.8v2.8h-2.8zM475.11 600.33h2.8v2.8h-2.8zM476.9 643.3h2.8v2.8h-2.8zM478.7 592.31h2.8v2.8h-2.8zM480.49 652.01h2.8v2.8h-2.8zM482.28 601.26h2.8v2.8h-2.8zM484.08 602.18h2.8v2.8h-2.8zM485.87 612.4h2.8v2.8h-2.8zM487.67 597.77h2.8v2.8h-2.8zM489.46 574.55h2.8v2.8h-2.8zM491.25 653.63h2.8v2.8h-2.8zM493.05 646.9h2.8v2.8h-2.8zM494.84 631.22h2.8v2.8h-2.8zM496.64 633.31h2.8v2.8h-2.8zM498.43 619.14h2.8v2.8h-2.8zM500.22 625.88h2.8v2.8h-2.8zM502.02 663.62h2.8v2.8h-2.8zM503.81 648.17h2.8v2.8h-2.8zM505.6 607.64h2.8v2.8h-2.8zM507.4 622.39h2.8v2.8h-2.8zM509.19 622.39h2.8v2.8h-2.8zM510.99 631.45h2.8v2.8h-2.8zM512.78 593.82h2.8v2.8h-2.8zM514.57 622.39h2.8v2.8h-2.8zM516.37 596.49h2.8v2.8h-2.8zM518.16 626.69h2.8v2.8h-2.8zM519.96 657.23h2.8v2.8h-2.8zM521.75 647.59h2.8v2.8h-2.8zM523.54 653.86h2.8v2.8h-2.8zM525.34 639.23h2.8v2.8h-2.8zM527.13 610.55h2.8v2.8h-2.8zM528.92 621.46h2.8v2.8h-2.8zM530.72 630.06h2.8v2.8h-2.8zM532.51 622.86h2.8v2.8h-2.8zM534.31 617.28h2.8v2.8h-2.8zM536.1 656.07h2.8v2.8h-2.8z" fill="#f00"/>
<rect x="25.6" y="7.85" width="239.1" height="179.6" fill="none" stroke="#111" stroke-width="1.1"/>
<text x="25.6" y="198.25" text-anchor="middle">650</text>
<text x="79.94" y="198.25" text-anchor="middle">700</text>
<text x="134.28" y="198.25" text-anchor="middle">750</text>
<text x="188.62" y="198.25" text-anchor="middle">800</text>
<text x="242.96" y="198.25" text-anchor="middle">850</text>
<text x="23.3" y="190.3" text-anchor="end">−5</text>
<text x="23.3" y="170.34" text-anchor="end">0</text>
<text x="23.3" y="150.39" text-anchor="end">5</text>
<text x="23.3" y="130.43" text-anchor="end">10</text>
<text x="23.3" y="110.48" text-anchor="end">15</text>
<text x="23.3" y="90.52" text-anchor="end">20</text>
<text x="23.3" y="70.57" text-anchor="end">25</text>
<text x="23.3" y="50.61" text-anchor="end">30</text>
<text x="23.3" y="30.66" text-anchor="end">35</text>
<text x="23.3" y="10.7" text-anchor="end">40</text>
<path d="M25.6 187.45v-2.6M79.94 187.45v-2.6M134.28 187.45v-2.6M188.62 187.45v-2.6M242.96 187.45v-2.6M52.77 187.45v-1.5M107.11 187.45v-1.5M161.45 187.45v-1.5M215.79 187.45v-1.5M25.6 187.45h2.6M25.6 167.49h2.6M25.6 147.54h2.6M25.6 127.58h2.6M25.6 107.63h2.6M25.6 87.67h2.6M25.6 67.72h2.6M25.6 47.76h2.6M25.6 27.81h2.6M25.6 7.85h2.6M25.6 177.47h1.5M25.6 157.52h1.5M25.6 137.56h1.5M25.6 117.61h1.5M25.6 97.65h1.5M25.6 77.69h1.5M25.6 57.74h1.5M25.6 37.78h1.5M25.6 17.83h1.5" stroke="#111" stroke-width="0.9" fill="none"/>
<text x="148.8" y="210.2" text-anchor="middle" style="font-size:9.6px">X/mm</text>
<text transform="translate(11.7 103) rotate(-90)" text-anchor="middle" textLength="21" lengthAdjust="spacingAndGlyphs" style="font-size:9.8px;fill:#484848;stroke:#484848">Y/mm</text>
<rect x="308.8" y="7.6" width="236.8" height="179.3" fill="none" stroke="#111" stroke-width="1.1"/>
<text x="318.67" y="197.7" text-anchor="middle">650</text>
<text x="368" y="197.7" text-anchor="middle">700</text>
<text x="417.33" y="197.7" text-anchor="middle">750</text>
<text x="466.67" y="197.7" text-anchor="middle">800</text>
<text x="516" y="197.7" text-anchor="middle">850</text>
<text x="306" y="189.75" text-anchor="end">0.0</text>
<text x="306" y="129.98" text-anchor="end">0.5</text>
<text x="306" y="70.22" text-anchor="end">1.0</text>
<text x="306" y="10.45" text-anchor="end">1.5</text>
<path d="M318.67 186.9v-2.6M368 186.9v-2.6M417.33 186.9v-2.6M466.67 186.9v-2.6M516 186.9v-2.6M343.33 186.9v-1.5M392.67 186.9v-1.5M442 186.9v-1.5M491.33 186.9v-1.5M540.67 186.9v-1.5M308.8 186.9h2.6M308.8 127.13h2.6M308.8 67.37h2.6M308.8 7.6h2.6M308.8 157.02h1.5M308.8 97.25h1.5M308.8 37.48h1.5" stroke="#111" stroke-width="0.9" fill="none"/>
<text x="431.1" y="209.6" text-anchor="middle" style="font-size:9.6px">X/mm</text>
<text transform="translate(292.8 105) rotate(-90)" text-anchor="middle" style="font-size:10.2px;fill:#111;stroke:#000">Y error/mm</text>
<rect x="32.45" y="248.45" width="239.45" height="179.05" fill="none" stroke="#111" stroke-width="1.1"/>
<text x="70.76" y="438.3" text-anchor="middle">750</text>
<text x="118.65" y="438.3" text-anchor="middle">800</text>
<text x="166.54" y="438.3" text-anchor="middle">850</text>
<text x="214.43" y="438.3" text-anchor="middle">900</text>
<text x="262.32" y="438.3" text-anchor="middle">950</text>
<text x="29.35" y="430.35" text-anchor="end">−10</text>
<text x="29.35" y="412.45" text-anchor="end">−5</text>
<text x="29.35" y="394.54" text-anchor="end">0</text>
<text x="29.35" y="376.63" text-anchor="end">5</text>
<text x="29.35" y="358.73" text-anchor="end">10</text>
<text x="29.35" y="340.83" text-anchor="end">15</text>
<text x="29.35" y="322.92" text-anchor="end">20</text>
<text x="29.35" y="305.01" text-anchor="end">25</text>
<text x="29.35" y="287.11" text-anchor="end">30</text>
<text x="29.35" y="269.21" text-anchor="end">35</text>
<text x="29.35" y="251.3" text-anchor="end">40</text>
<path d="M70.76 427.5v-2.6M118.65 427.5v-2.6M166.54 427.5v-2.6M214.43 427.5v-2.6M262.32 427.5v-2.6M46.82 427.5v-1.5M94.71 427.5v-1.5M142.6 427.5v-1.5M190.49 427.5v-1.5M238.38 427.5v-1.5M32.45 427.5h2.6M32.45 409.6h2.6M32.45 391.69h2.6M32.45 373.78h2.6M32.45 355.88h2.6M32.45 337.98h2.6M32.45 320.07h2.6M32.45 302.16h2.6M32.45 284.26h2.6M32.45 266.36h2.6M32.45 248.45h2.6M32.45 418.55h1.5M32.45 400.64h1.5M32.45 382.74h1.5M32.45 364.83h1.5M32.45 346.93h1.5M32.45 329.02h1.5M32.45 311.12h1.5M32.45 293.21h1.5M32.45 275.31h1.5M32.45 257.4h1.5" stroke="#111" stroke-width="0.9" fill="none"/>
<text x="155.7" y="452.4" text-anchor="middle" style="font-size:9.6px">X/mm</text>
<text transform="translate(12.4 343.3) rotate(-90)" text-anchor="middle" style="font-size:9.6px;fill:#111;stroke:#000">Y/mm</text>
<rect x="303" y="248.45" width="239.4" height="180.15" fill="none" stroke="#111" stroke-width="1.1"/>
<text x="341.3" y="439.4" text-anchor="middle">750</text>
<text x="389.18" y="439.4" text-anchor="middle">800</text>
<text x="437.06" y="439.4" text-anchor="middle">850</text>
<text x="484.94" y="439.4" text-anchor="middle">900</text>
<text x="532.82" y="439.4" text-anchor="middle">950</text>
<text x="299.7" y="431.45" text-anchor="end">0.0</text>
<text x="299.7" y="371.4" text-anchor="end">0.5</text>
<text x="299.7" y="311.35" text-anchor="end">1.0</text>
<text x="299.7" y="251.3" text-anchor="end">1.5</text>
<path d="M341.3 428.6v-2.6M389.18 428.6v-2.6M437.06 428.6v-2.6M484.94 428.6v-2.6M532.82 428.6v-2.6M317.36 428.6v-1.5M365.24 428.6v-1.5M413.12 428.6v-1.5M461 428.6v-1.5M508.88 428.6v-1.5M303 428.6h2.6M303 368.55h2.6M303 308.5h2.6M303 248.45h2.6M303 398.58h1.5M303 338.52h1.5M303 278.48h1.5" stroke="#111" stroke-width="0.9" fill="none"/>
<text x="426.4" y="452.4" text-anchor="middle" style="font-size:9.6px">X/mm</text>
<text transform="translate(286.6 346.3) rotate(-90)" text-anchor="middle" style="font-size:10.1px;fill:#111;stroke:#000">Y error/mm</text>
<rect x="37.1" y="491.4" width="232.3" height="172.6" fill="none" stroke="#111" stroke-width="1.1"/>
<text x="72.84" y="674.8" text-anchor="middle">700</text>
<text x="117.51" y="674.8" text-anchor="middle">750</text>
<text x="162.18" y="674.8" text-anchor="middle">800</text>
<text x="206.86" y="674.8" text-anchor="middle">850</text>
<text x="251.53" y="674.8" text-anchor="middle">900</text>
<text x="34" y="666.85" text-anchor="end">−50</text>
<text x="34" y="645.27" text-anchor="end">−45</text>
<text x="34" y="623.7" text-anchor="end">−40</text>
<text x="34" y="602.12" text-anchor="end">−35</text>
<text x="34" y="580.55" text-anchor="end">−30</text>
<text x="34" y="558.98" text-anchor="end">−25</text>
<text x="34" y="537.4" text-anchor="end">−20</text>
<text x="34" y="515.83" text-anchor="end">−15</text>
<text x="34" y="494.25" text-anchor="end">−10</text>
<path d="M72.84 664v-2.6M117.51 664v-2.6M162.18 664v-2.6M206.86 664v-2.6M251.53 664v-2.6M50.5 664v-1.5M95.17 664v-1.5M139.85 664v-1.5M184.52 664v-1.5M229.19 664v-1.5M37.1 664h2.6M37.1 642.42h2.6M37.1 620.85h2.6M37.1 599.27h2.6M37.1 577.7h2.6M37.1 556.12h2.6M37.1 534.55h2.6M37.1 512.98h2.6M37.1 491.4h2.6M37.1 653.21h1.5M37.1 631.64h1.5M37.1 610.06h1.5M37.1 588.49h1.5M37.1 566.91h1.5M37.1 545.34h1.5M37.1 523.76h1.5M37.1 502.19h1.5" stroke="#111" stroke-width="0.9" fill="none"/>
<text x="156.9" y="688" text-anchor="middle" style="font-size:9.6px">X/mm</text>
<text transform="translate(18 583) rotate(-90)" text-anchor="middle" style="font-size:9.4px;fill:#111;stroke:#000">Y/mm</text>
<rect x="304.3" y="491.4" width="233.2" height="174.2" fill="none" stroke="#111" stroke-width="1.1"/>
<text x="340.18" y="676.4" text-anchor="middle">700</text>
<text x="385.02" y="676.4" text-anchor="middle">750</text>
<text x="429.87" y="676.4" text-anchor="middle">800</text>
<text x="474.72" y="676.4" text-anchor="middle">850</text>
<text x="519.56" y="676.4" text-anchor="middle">900</text>
<text x="300.7" y="668.45" text-anchor="end">0.0</text>
<text x="300.7" y="610.38" text-anchor="end">0.5</text>
<text x="300.7" y="552.32" text-anchor="end">1.0</text>
<text x="300.7" y="494.25" text-anchor="end">1.5</text>
<path d="M340.18 665.6v-2.6M385.02 665.6v-2.6M429.87 665.6v-2.6M474.72 665.6v-2.6M519.56 665.6v-2.6M317.75 665.6v-1.5M362.6 665.6v-1.5M407.45 665.6v-1.5M452.29 665.6v-1.5M497.14 665.6v-1.5M304.3 665.6h2.6M304.3 607.53h2.6M304.3 549.47h2.6M304.3 491.4h2.6M304.3 636.57h1.5M304.3 578.5h1.5M304.3 520.43h1.5" stroke="#111" stroke-width="0.9" fill="none"/>
<text x="423.5" y="688" text-anchor="middle" style="font-size:9.6px">X/mm</text>
<text transform="translate(288 585.6) rotate(-90)" text-anchor="middle" style="font-size:9.8px;fill:#111;stroke:#000">Y error/mm</text>
<rect x="147.7" y="10.7" width="113.3" height="27.5" fill="#fff" stroke="#555" stroke-width="0.6"/>
<path d="M149.8 18.3H169.4" stroke="#000" stroke-width="1.5"/>
<text x="175" y="21.6" textLength="84.7" lengthAdjust="spacingAndGlyphs" style="font-size:9.85px">Theoretical trajectory</text>
<path d="M149.8 31H169.4" stroke="#f00" stroke-width="1.4"/>
<rect x="158.6" y="30" width="2" height="2" fill="#e00"/>
<text x="175" y="34.3" textLength="65.1" lengthAdjust="spacingAndGlyphs" style="font-size:9.85px">Actual trajectory</text>
<rect x="150.3" y="250.8" width="115" height="26.7" fill="#fff" stroke="#555" stroke-width="0.6"/>
<path d="M152.3 257.4H172.7" stroke="#000" stroke-width="1.5"/>
<text x="177.7" y="261" textLength="85" lengthAdjust="spacingAndGlyphs" style="font-size:9.85px">Theoretical trajectory</text>
<path d="M152.3 270.1H172.7" stroke="#f00" stroke-width="1.4"/>
<rect x="161.5" y="269.1" width="2" height="2" fill="#e00"/>
<text x="177.7" y="273.7" textLength="66.2" lengthAdjust="spacingAndGlyphs" style="font-size:9.85px">Actual trajectory</text>
<rect x="153.3" y="492.4" width="112" height="25.9" fill="#fff" stroke="#555" stroke-width="0.6"/>
<path d="M155.4 499.3H175.2" stroke="#000" stroke-width="1.5"/>
<text x="180.8" y="502.3" textLength="82.7" lengthAdjust="spacingAndGlyphs" style="font-size:9.85px">Theoretical trajectory</text>
<path d="M155.4 511.2H175.2" stroke="#f00" stroke-width="1.4"/>
<rect x="164.3" y="510.2" width="2" height="2" fill="#e00"/>
<text x="180.8" y="514.5" textLength="64.1" lengthAdjust="spacingAndGlyphs" style="font-size:9.85px">Actual trajectory</text>
<rect x="452.3" y="9.9" width="90.4" height="14.5" fill="#fff" stroke="#555" stroke-width="0.6"/>
<path d="M453 17.2H462.6" stroke="#000" stroke-width="1.3"/>
<rect x="462" y="16.1" width="2.2" height="2.2" fill="#f00"/>
<text x="479" y="20.6" textLength="61.4" lengthAdjust="spacingAndGlyphs" style="font-size:9.7px">Trajectory error</text>
<rect x="444.8" y="248.9" width="91.6" height="15" fill="#fff" stroke="#555" stroke-width="0.6"/>
<path d="M446.1 256.6H466.3" stroke="#000" stroke-width="1.3"/>
<rect x="455.1" y="255.5" width="2.2" height="2.2" fill="#f00"/>
<text x="472.1" y="260" textLength="62.4" lengthAdjust="spacingAndGlyphs" style="font-size:9.7px">Trajectory error</text>
<rect x="446.7" y="491.8" width="88.8" height="14.5" fill="#fff" stroke="#555" stroke-width="0.6"/>
<path d="M447.6 499.5H456.8" stroke="#000" stroke-width="1.3"/>
<rect x="456.5" y="498.4" width="2.2" height="2.2" fill="#f00"/>
<text x="472.8" y="502.9" textLength="61.7" lengthAdjust="spacingAndGlyphs" style="font-size:9.7px">Trajectory error</text>
<text x="175.1" y="227" style="font-size:12.8px" textLength="13.8" lengthAdjust="spacingAndGlyphs">(<tspan font-weight="bold">a</tspan>)</text>
<text x="193.3" y="227" style="font-size:12.8px" textLength="180.7" lengthAdjust="spacingAndGlyphs">Docking trajectory and its error.</text>
<text x="162" y="481" style="font-size:12.8px" textLength="15" lengthAdjust="spacingAndGlyphs">(<tspan font-weight="bold">b</tspan>)</text>
<text x="182" y="481" style="font-size:12.8px" textLength="204.4" lengthAdjust="spacingAndGlyphs">Overlapping trajectory and its error.</text>
<text x="165.1" y="705" style="font-size:12.8px" textLength="13.1" lengthAdjust="spacingAndGlyphs">(<tspan font-weight="bold">c</tspan>)</text>
<text x="182.5" y="705" style="font-size:12.8px" textLength="200.7" lengthAdjust="spacingAndGlyphs">Corner joint trajectory and its error.</text>
</svg></body></html>
